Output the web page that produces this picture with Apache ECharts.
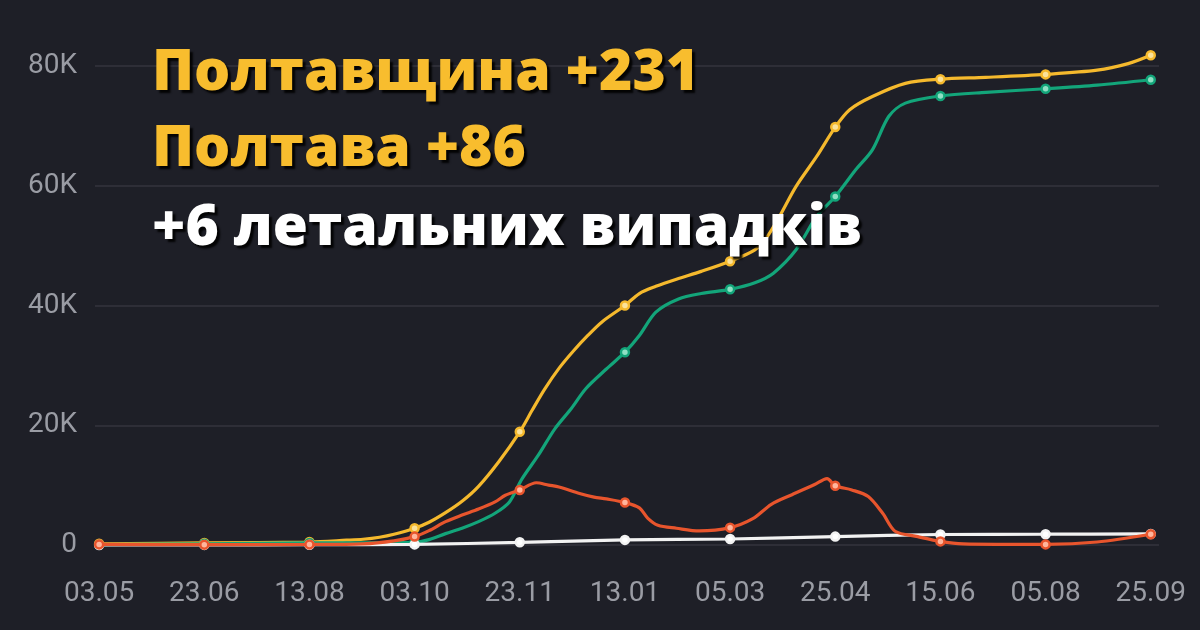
<!DOCTYPE html>
<html>
<head>
<meta charset="utf-8">
<script src="https://cdn.jsdelivr.net/npm/echarts@6/dist/echarts.min.js"></script>
<style>
html,body{margin:0;padding:0;background:#1e1f27;}
#c{width:1200px;height:630px;}
</style>
</head>
<body>
<div id="c"></div>
<script>
// Day index from 03.05 (daily); labels every 51 days
const tickDays = [0, 51, 102, 153, 204, 255, 306, 357, 408, 459, 510];
const tickLabels = ['03.05','23.06','13.08','03.10','23.11','13.01','05.03','25.04','15.06','05.08','25.09'];

const yTicks = [0, 20000, 40000, 60000, 80000];
const yTickLabels = ['0', '20K', '40K', '60K', '80K'];

// Полтавщина: total cases
const totalDays = [0, 51, 102, 120, 128, 136, 143, 153, 160, 168, 176, 184, 194, 204, 210, 216, 223, 230, 237, 244, 255, 262, 270, 280, 292, 306, 318, 324, 330, 338, 348, 357, 364, 375, 391, 408, 430, 459, 484, 499, 510];
const totalVals = [200, 350, 500, 800, 960, 1300, 1800, 2800, 3800, 5400, 7300, 9800, 14000, 18900, 22500, 26000, 29500, 32400, 35000, 37300, 40000, 42000, 43200, 44400, 45700, 47400, 49300, 51500, 54900, 59900, 64900, 69800, 72700, 74900, 77100, 77800, 78100, 78600, 79300, 80400, 81800];

// recovered
const recDays = [0, 51, 102, 153, 160, 168, 176, 184, 192, 199, 205, 213, 221, 229, 236, 246, 255, 262, 270, 281, 292, 306, 318, 327, 338, 348, 357, 367, 375, 383, 391, 408, 430, 459, 484, 510];
const recVals = [50, 200, 350, 450, 900, 1900, 2800, 3900, 5300, 7200, 11000, 15000, 19400, 22800, 26100, 29400, 32200, 35000, 38900, 41100, 42000, 42700, 43800, 45400, 49300, 54900, 58200, 62700, 66000, 71600, 73800, 75000, 75600, 76200, 76800, 77700];

// active
const actDays = [0, 51, 102, 128, 143, 153, 160, 168, 176, 184, 192, 197, 204, 212, 218, 223, 233, 240, 246, 255, 262, 266, 271, 280, 291, 306, 317, 326, 336, 347, 353, 357, 365, 373, 380, 386, 397, 408, 419, 459, 484, 510];
const actVals = [100, 60, 100, 200, 700, 1400, 2400, 3900, 5000, 6000, 7200, 8300, 9200, 10400, 10000, 9700, 8600, 8000, 7700, 7100, 6200, 4500, 3300, 2800, 2350, 2900, 4400, 6800, 8400, 10100, 11100, 9900, 9200, 8100, 5300, 2300, 1400, 600, 200, 100, 500, 1800];

// deaths
const deathDays = [0, 51, 102, 153, 204, 255, 306, 357, 408, 459, 510];
const deathVals = [10, 20, 50, 100, 450, 850, 1000, 1400, 1750, 1800, 1850];

function pairs(d, v) { return d.map((x, i) => [x, v[i]]); }
function sym(val) { return tickDays.indexOf(val[0]) >= 0 ? 8 : 0; }

function lineSeries(name, data, color, inner, z) {
  return {
    name: name, type: 'line', data: data, smooth: 0.3, clip: false,
    symbol: 'circle', symbolSize: sym, showSymbol: true, z: z,
    lineStyle: { color: color, width: 3.2 },
    itemStyle: { color: inner, borderColor: color, borderWidth: 2.5 },
    emphasis: { disabled: true }, animation: false
  };
}

const chart = echarts.init(document.getElementById('c'), null, { renderer: 'canvas' });
const titleStyle = (color) => ({
  color: color, fontSize: 57, fontWeight: 800, fontFamily: 'Open Sans',
  textShadowColor: 'rgba(0,0,0,0.9)', textShadowOffsetX: 3, textShadowOffsetY: 3, textShadowBlur: 2
});
chart.setOption({
  backgroundColor: '#1e1f27',
  animation: false,
  title: [
    { text: 'Полтавщина +231', left: 152, top: 45, padding: 0, textStyle: titleStyle('#f8bd2e'), z: 10 },
    { text: 'Полтава +86', left: 152, top: 121, padding: 0, textStyle: titleStyle('#f8bd2e'), z: 10 },
    { text: '+6 летальних випадків', left: 152, top: 200, padding: 0, textStyle: titleStyle('#ffffff'), z: 10 }
  ],
  grid: { left: 95, right: 41, top: 66, bottom: 85, containLabel: false },
  xAxis: {
    type: 'value', min: -2, max: 514,
    axisLine: { show: false }, axisTick: { show: false }, splitLine: { show: false },
    axisLabel: {
      customValues: tickDays,
      formatter: (v) => { const i = tickDays.indexOf(v); return i >= 0 ? tickLabels[i] : ''; },
      color: '#9a9ca4', fontSize: 28, fontFamily: 'Roboto', margin: 35
    }
  },
  yAxis: {
    type: 'value', min: 0, max: 80000, interval: 20000,
    axisLine: { show: false }, axisTick: { show: false },
    splitLine: { lineStyle: { color: '#34353e', width: 1.5 } },
    axisLabel: {
      formatter: (v) => { const i = yTicks.indexOf(v); return i >= 0 ? yTickLabels[i] : ''; },
      color: '#9a9ca4', fontSize: 28, fontFamily: 'Roboto', margin: 18
    }
  },
  series: [
    lineSeries('Полтавщина', pairs(totalDays, totalVals), '#f5b92d', '#fbe29a', 2),
    lineSeries('Одужали', pairs(recDays, recVals), '#13a57a', '#8fe0c4', 3),
    lineSeries('Померли', pairs(deathDays, deathVals), '#f2f2f2', '#ffffff', 4),
    lineSeries('Активні', pairs(actDays, actVals), '#e8552d', '#ffb59c', 5)
  ]
});
</script>
</body>
</html>
